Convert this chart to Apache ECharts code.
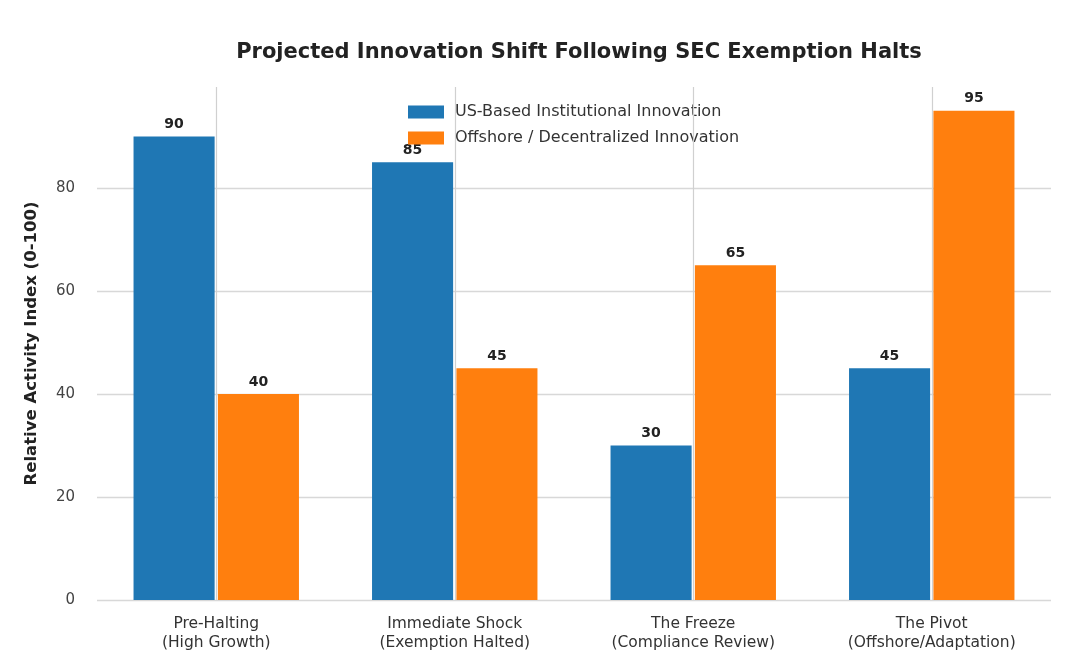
<!DOCTYPE html>
<html><head><meta charset="utf-8">
<script src="https://cdn.jsdelivr.net/npm/echarts@6/dist/echarts.min.js"></script>
<style>html,body{margin:0;padding:0;background:#fff}#c{width:1080px;height:658px}</style>
</head><body><div id="c"></div>
<script>
const categories = ["Pre-Halting\n(High Growth)", "Immediate Shock\n(Exemption Halted)", "The Freeze\n(Compliance Review)", "The Pivot\n(Offshore/Adaptation)"];
const usValues = [90, 85, 30, 45];
const offshoreValues = [40, 45, 65, 95];
const font = "DejaVu Sans";
const chart = echarts.init(document.getElementById('c'));
const lbl = {show: true, position: 'top', fontWeight: 'bold', fontSize: 14, color: '#222', fontFamily: font, distance: 5};
chart.setOption({
  animation: false,
  textStyle: {fontFamily: font},
  title: {text: 'Projected Innovation Shift Following SEC Exemption Halts', left: 574, textAlign: 'center', top: 37,
    textStyle: {fontSize: 21, fontWeight: 'bold', color: '#222', fontFamily: font}},
  legend: {orient: 'vertical', left: 403, top: 99, itemWidth: 36, itemHeight: 13, itemGap: 10, icon: 'rect',
    textStyle: {fontSize: 16, color: '#333', fontFamily: font, padding: [0, 0, 0, 6]}},
  grid: {left: 97, right: 29, top: 87, bottom: 58},
  xAxis: {type: 'category', data: categories,
    axisLine: {show: false}, axisTick: {show: false},
    axisLabel: {fontSize: 15.5, color: '#333', lineHeight: 19, margin: 14, fontFamily: font},
    splitLine: {show: false}},
  yAxis: {type: 'value', min: 0, max: 99.6, interval: 20,
    name: 'Relative Activity Index (0-100)', nameLocation: 'middle', nameGap: 57,
    nameTextStyle: {fontSize: 16.5, fontWeight: 'bold', color: '#222', fontFamily: font},
    axisLabel: {fontSize: 15, color: '#444', showMaxLabel: false, margin: 22},
    axisLine: {show: false}, axisTick: {show: false},
    splitLine: {showMaxLine: false, lineStyle: {color: '#d8d8d8', width: 1.3}}},
  series: [
    {name: 'US-Based Institutional Innovation', type: 'bar', data: usValues, barWidth: '34%', barGap: '4%',
      itemStyle: {color: '#1f77b4'}, label: lbl},
    {name: 'Offshore / Decentralized Innovation', type: 'bar', data: offshoreValues, barWidth: '34%',
      itemStyle: {color: '#ff7f0e'}, label: lbl},
    {type: 'line', data: [], markLine: {symbol: 'none', silent: true, label: {show: false},
      lineStyle: {color: '#d0d0d0', type: 'solid', width: 1.2},
      data: categories.map(c => ({xAxis: c}))}, z: 0}
  ]
});
</script></body></html>
